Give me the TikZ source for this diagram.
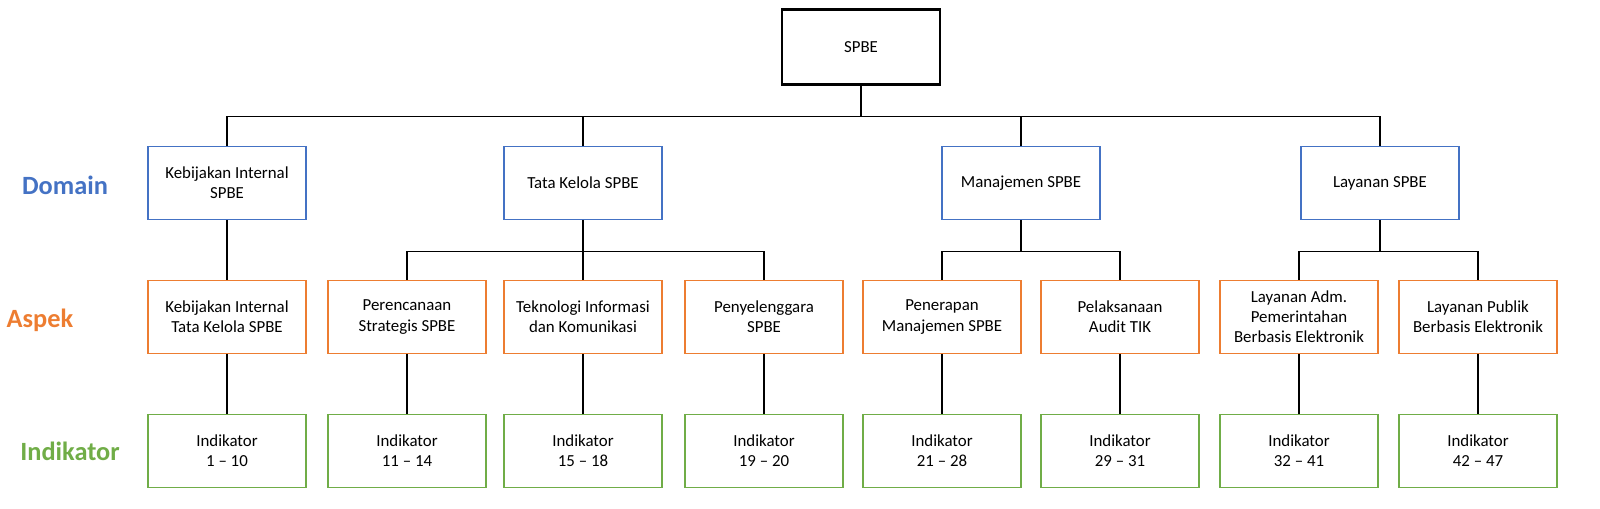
\documentclass[tikz,border=0pt]{standalone}
\usepackage{fontspec}
\setmainfont{Carlito}
\definecolor{dblue}{RGB}{68,114,196}
\definecolor{aorange}{RGB}{237,125,49}
\definecolor{igreen}{RGB}{112,173,71}
\tikzset{
  box/.style ={draw, thick, minimum width=3.16cm, minimum height=1.46cm, align=center, font=\fontsize{9.6}{11.5}\selectfont},
  topbox/.style ={box, very thick, minimum height=1.5cm},
  domainbox/.style ={box, draw=dblue},
  aspekbox/.style ={box, draw=aorange},
  indbox/.style ={box, draw=igreen},
  line/.style ={draw, semithick}
}
\begin{document}
\begin{tikzpicture}[x=0.02cm, y=-0.02cm]
   \useasboundingbox (0,0) rectangle (1600,509);
   % row labels
   \node [text=dblue, font=\fontsize{15}{17}\selectfont\bfseries] (lbl_domain) at (65,185) {Domain};
   \node [text=aorange, font=\fontsize{15}{17}\selectfont\bfseries] (lbl_aspek) at (40,320) {Aspek};
   \node [text=igreen, font=\fontsize{15}{17}\selectfont\bfseries] (lbl_ind) at (70,451) {Indikator};
   % top
   \node [topbox] (spbe) at (861,47) {SPBE};
   % domain
   \node [domainbox] (kebijakan) at (227,183) {Kebijakan Internal\\SPBE};
   \node [domainbox] (tatakelola) at (583,183) {Tata Kelola SPBE};
   \node [domainbox] (manajemen) at (1021,183) {Manajemen SPBE};
   \node [domainbox] (layanan) at (1380,183) {Layanan SPBE};
   % aspek
   \node [aspekbox] (a_kebijakan) at (227,317) {Kebijakan Internal\\Tata Kelola SPBE};
   \node [aspekbox] (a_rencana) at (407,317) {Perencanaan\\Strategis SPBE};
   \node [aspekbox] (a_tik) at (583,317) {Teknologi Informasi\\dan Komunikasi};
   \node [aspekbox] (a_penyelenggara) at (764,317) {Penyelenggara\\SPBE};
   \node [aspekbox] (a_penerapan) at (942,317) {Penerapan\\Manajemen SPBE};
   \node [aspekbox] (a_audit) at (1120,317) {Pelaksanaan\\Audit TIK};
   \node [aspekbox] (a_adm) at (1299,317) {Layanan Adm.\\Pemerintahan\\Berbasis Elektronik};
   \node [aspekbox] (a_publik) at (1478,317) {Layanan Publik\\Berbasis Elektronik};
   % indikator
   \node [indbox] (i_kebijakan) at (227,451) {Indikator\\1 -- 10};
   \node [indbox] (i_rencana) at (407,451) {Indikator\\11 -- 14};
   \node [indbox] (i_tik) at (583,451) {Indikator\\15 -- 18};
   \node [indbox] (i_penyelenggara) at (764,451) {Indikator\\19 -- 20};
   \node [indbox] (i_penerapan) at (942,451) {Indikator\\21 -- 28};
   \node [indbox] (i_audit) at (1120,451) {Indikator\\29 -- 31};
   \node [indbox] (i_adm) at (1299,451) {Indikator\\32 -- 41};
   \node [indbox] (i_publik) at (1478,451) {Indikator\\42 -- 47};
   % connectors
   \foreach \d in {kebijakan,tatakelola,manajemen,layanan}
     \path [line] (spbe.south) -- ++(0,31) -| (\d.north);
   \path [line] (kebijakan) -- (a_kebijakan);
   \foreach \a in {a_rencana,a_tik,a_penyelenggara}
     \path [line] (tatakelola.south) -- ++(0,31) -| (\a.north);
   \foreach \a in {a_penerapan,a_audit}
     \path [line] (manajemen.south) -- ++(0,31) -| (\a.north);
   \foreach \a in {a_adm,a_publik}
     \path [line] (layanan.south) -- ++(0,31) -| (\a.north);
   \foreach \a/\i in {a_kebijakan/i_kebijakan,a_rencana/i_rencana,a_tik/i_tik,a_penyelenggara/i_penyelenggara,a_penerapan/i_penerapan,a_audit/i_audit,a_adm/i_adm,a_publik/i_publik}
     \path [line] (\a) -- (\i);
\end{tikzpicture}
\end{document}
